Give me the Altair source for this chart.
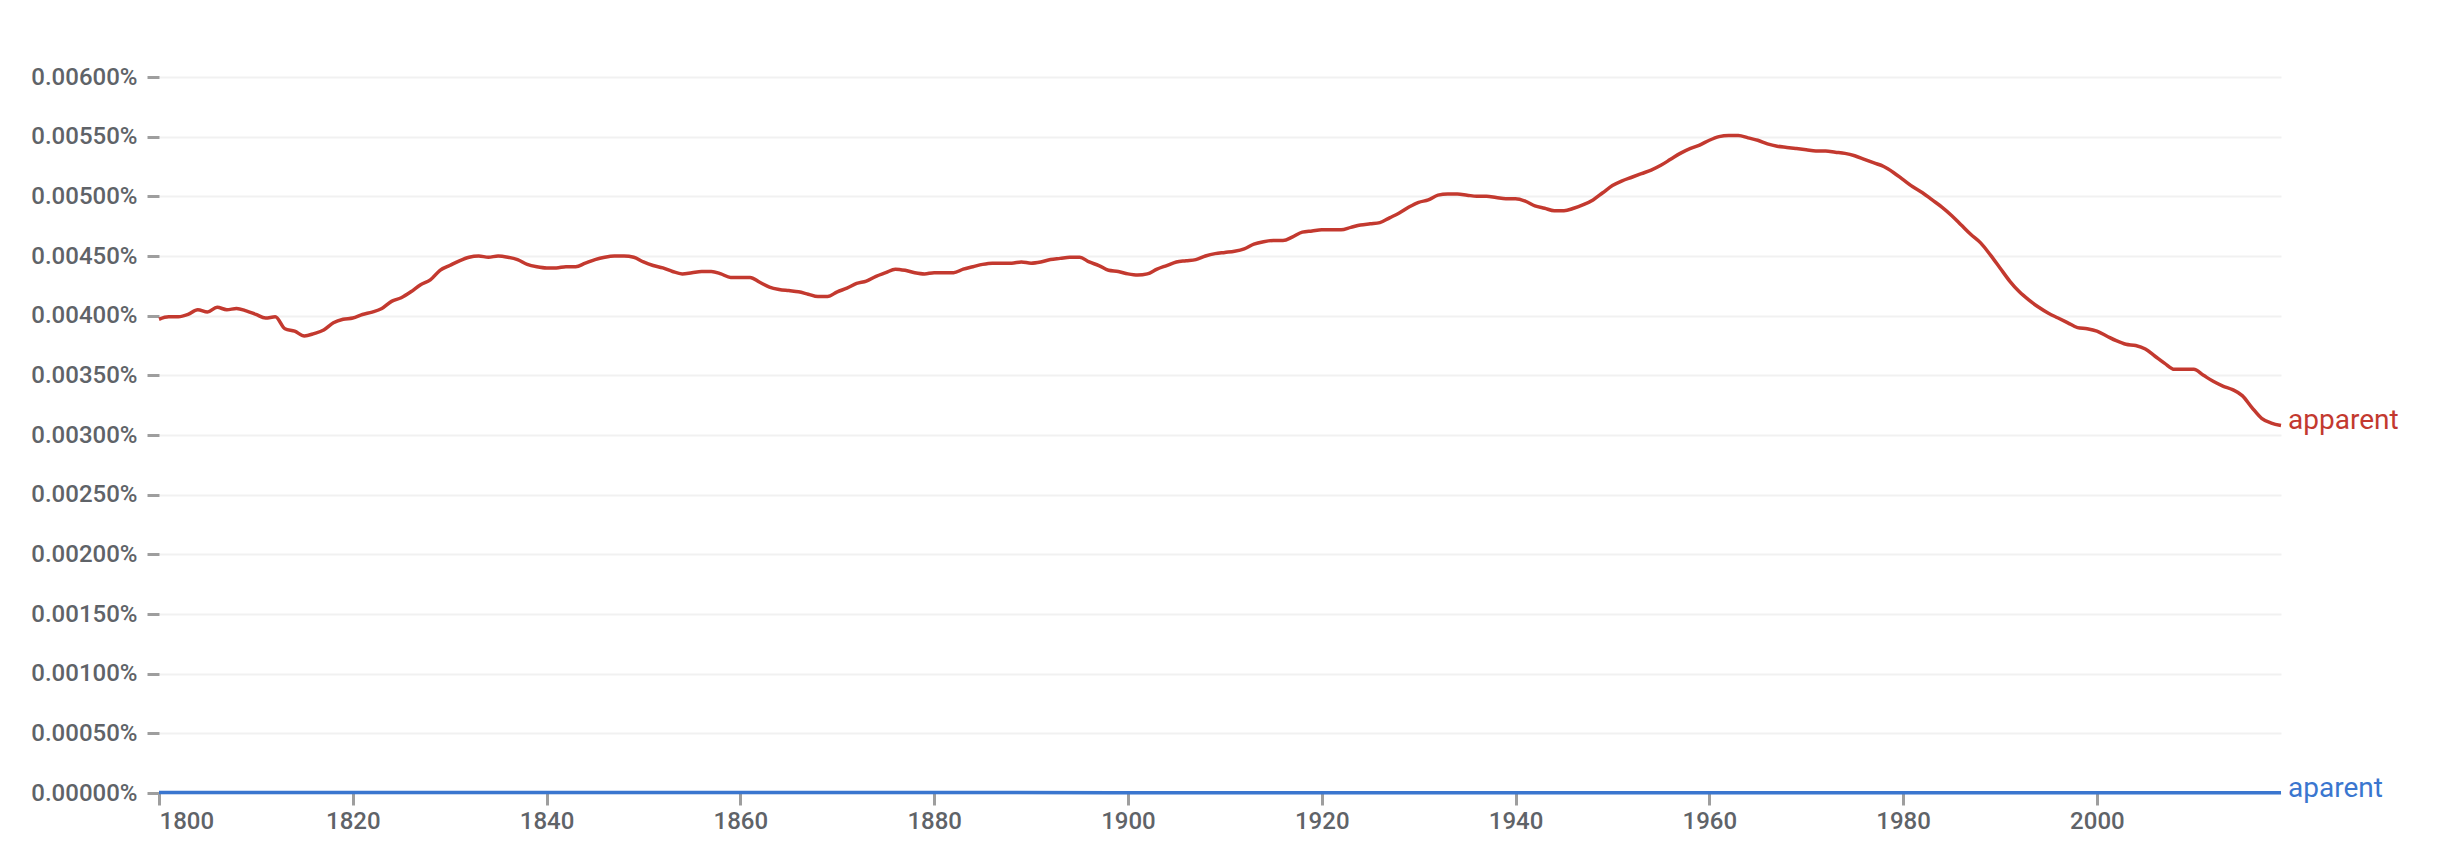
import altair as alt
import pandas as pd

# --- data (values in percent) ---
years = list(range(1800, 2020))
apparent = [
    0.00397, 0.00399, 0.00399, 0.00401, 0.00405, 0.00403, 0.00407, 0.00405, 0.00406, 0.00404,
    0.00401, 0.00398, 0.00399, 0.00389, 0.00387, 0.00383, 0.00385, 0.00388, 0.00394, 0.00397,
    0.00398, 0.00401, 0.00403, 0.00406, 0.00412, 0.00415, 0.00420, 0.00426, 0.00430, 0.00438,
    0.00442, 0.00446, 0.00449, 0.00450, 0.00449, 0.00450, 0.00449, 0.00447, 0.00443, 0.00441,
    0.00440, 0.00440, 0.00441, 0.00441, 0.00444, 0.00447, 0.00449, 0.00450, 0.00450, 0.00449,
    0.00445, 0.00442, 0.00440, 0.00437, 0.00435, 0.00436, 0.00437, 0.00437, 0.00435, 0.00432,
    0.00432, 0.00432, 0.00428, 0.00424, 0.00422, 0.00421, 0.00420, 0.00418, 0.00416, 0.00416,
    0.00420, 0.00423, 0.00427, 0.00429, 0.00433, 0.00436, 0.00439, 0.00438, 0.00436, 0.00435,
    0.00436, 0.00436, 0.00436, 0.00439, 0.00441, 0.00443, 0.00444, 0.00444, 0.00444, 0.00445,
    0.00444, 0.00445, 0.00447, 0.00448, 0.00449, 0.00449, 0.00445, 0.00442, 0.00438, 0.00437,
    0.00435, 0.00434, 0.00435, 0.00439, 0.00442, 0.00445, 0.00446, 0.00447, 0.00450, 0.00452,
    0.00453, 0.00454, 0.00456, 0.00460, 0.00462, 0.00463, 0.00463, 0.00466, 0.00470, 0.00471,
    0.00472, 0.00472, 0.00472, 0.00474, 0.00476, 0.00477, 0.00478, 0.00482, 0.00486, 0.00491,
    0.00495, 0.00497, 0.00501, 0.00502, 0.00502, 0.00501, 0.00500, 0.00500, 0.00499, 0.00498,
    0.00498, 0.00496, 0.00492, 0.00490, 0.00488, 0.00488, 0.00490, 0.00493, 0.00497, 0.00503,
    0.00509, 0.00513, 0.00516, 0.00519, 0.00522, 0.00526, 0.00531, 0.00536, 0.00540, 0.00543,
    0.00547, 0.00550, 0.00551, 0.00551, 0.00549, 0.00547, 0.00544, 0.00542, 0.00541, 0.00540,
    0.00539, 0.00538, 0.00538, 0.00537, 0.00536, 0.00534, 0.00531, 0.00528, 0.00525, 0.00520,
    0.00514, 0.00508, 0.00503, 0.00497, 0.00491, 0.00484, 0.00476, 0.00468, 0.00461, 0.00451,
    0.00440, 0.00429, 0.00420, 0.00413, 0.00407, 0.00402, 0.00398, 0.00394, 0.00390, 0.00389,
    0.00387, 0.00383, 0.00379, 0.00376, 0.00375, 0.00372, 0.00366, 0.00360, 0.00355, 0.00355,
    0.00355, 0.00350, 0.00345, 0.00341, 0.00338, 0.00333, 0.00323, 0.00314, 0.00310, 0.00308,
]
aparent_years = [1800, 1820, 1840, 1860, 1880, 1900, 1920, 1940, 1960, 1980, 2000, 2019]
aparent = [0.000004, 0.000004, 0.000004, 0.000004, 0.000004, 0.000003, 0.000003,
           0.000003, 0.000003, 0.000003, 0.000003, 0.000003]

series_names = ["apparent", "aparent"]
series_colors = ["#c3392f", "#3a76cf"]
y_ticks = [0.0, 0.0005, 0.001, 0.0015, 0.002, 0.0025, 0.003, 0.0035, 0.004,
           0.0045, 0.005, 0.0055, 0.006]
x_ticks = [1800, 1820, 1840, 1860, 1880, 1900, 1920, 1940, 1960, 1980, 2000]

df = pd.concat([
    pd.DataFrame({"year": years, "value": apparent, "series": "apparent"}),
    pd.DataFrame({"year": aparent_years, "value": aparent, "series": "aparent"}),
])
last = pd.DataFrame({
    "year": [years[-1], aparent_years[-1]],
    "value": [apparent[-1], aparent[-1]],
    "series": series_names,
})

color = alt.Color("series:N", scale=alt.Scale(domain=series_names, range=series_colors), legend=None)
x = alt.X("year:Q", scale=alt.Scale(domain=[1800, 2019], nice=False, zero=False),
          axis=alt.Axis(values=x_ticks, format="d", title=None, grid=False, domain=False,
                        ticks=True, tickSize=12, tickWidth=3, tickColor="#9e9e9e",
                        labelFont="Roboto", labelFontSize=24, labelFontWeight=500,
                        labelColor="#5f6368", labelPadding=4))
y = alt.Y("value:Q", scale=alt.Scale(domain=[0, 0.006], nice=False),
          axis=alt.Axis(values=y_ticks, labelExpr="format(datum.value, '.5f') + '%'",
                        title=None, grid=True, gridColor="#f1f1f1", gridWidth=2,
                        domain=False, ticks=True, tickSize=12, tickWidth=3,
                        tickColor="#9e9e9e", labelFont="Roboto", labelFontSize=24,
                        labelFontWeight=500, labelColor="#5f6368", labelPadding=10))

lines = alt.Chart(df).mark_line(strokeWidth=3.5, interpolate="monotone").encode(
    x=x, y=y, color=color, detail="series:N")
labels = alt.Chart(last).mark_text(align="left", baseline="middle", dx=7, dy=-4,
                                   font="Roboto", fontSize=28).encode(
    x="year:Q", y="value:Q", text="series:N", color=color)

chart = alt.layer(lines, labels).properties(
    width=2122, height=716,
    autosize=alt.AutoSizeParams(type="none"),
    padding={"left": 151, "top": 69, "right": 150, "bottom": 40},
).configure_view(stroke=None)

chart.save("out.html", embed_options={"renderer": "svg", "actions": False})
